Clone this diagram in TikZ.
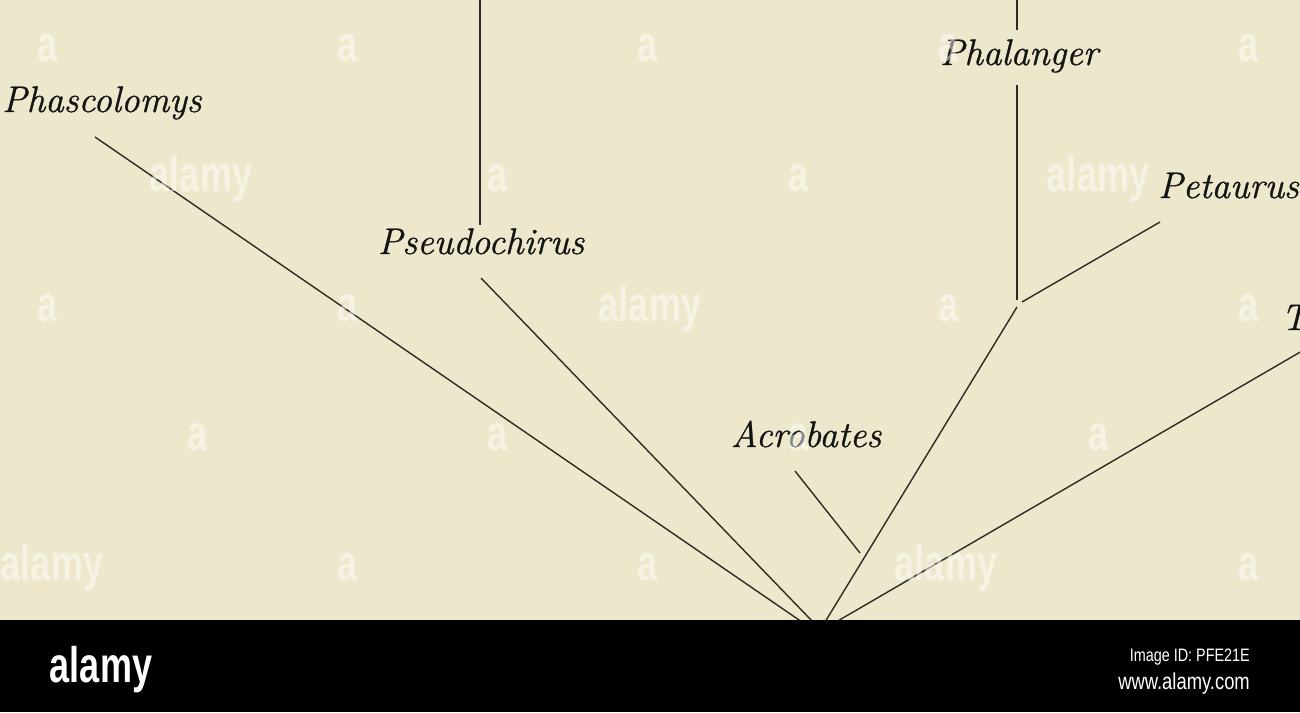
\documentclass[tikz,border=0pt]{standalone}
\usepackage{fontspec}
\newfontfamily\wmfont{Liberation Sans}
\newfontfamily\labfont[ItalicFeatures={FakeBold=0.9}]{Latin Modern Roman}
\definecolor{paper}{RGB}{237,231,203}
\definecolor{ink}{RGB}{45,43,35}
\tikzset{
  lbl/.style={inner sep=0pt, font=\labfont\fontsize{37}{44}\selectfont\itshape, text=black!92},
  br/.style={line width=1.4pt, draw=ink},
  wm/.style={inner sep=0pt, anchor=base, text=white, text opacity=0.5, font=\wmfont\bfseries\fontsize{50}{60}\selectfont},
  barlbl/.style={inner sep=0pt, text=white, font=\wmfont},
}
\begin{document}
\begin{tikzpicture}[x=1pt,y=-1pt]
\useasboundingbox (0,0) rectangle (1300,712);
\clip (0,0) rectangle (1300,712);
\fill[paper] (0,0) rectangle (1300,620);

% labels
\node[lbl, anchor=base west] (phasc) at (2,112) {Phascolomys};
\node[lbl, anchor=base] (pseudo) at (481,254) {Pseudochirus};
\node[lbl, anchor=base] (phal) at (1019,65) {Phalanger};
\node[lbl, anchor=base west] (petau) at (1158,198) {Petaurus};
\node[lbl, anchor=base] (acro) at (806,447) {Acrobates};
\node[lbl, anchor=base west] (tri) at (1281,330) {Trichosurus};

% branch end points
\coordinate (top1) at (480,-2);
\coordinate (pseudotop) at (480,225);
\coordinate (pseudobot) at (481,278);
\coordinate (phasbot) at (95,137);
\coordinate (top2) at (1017,-2);
\coordinate (phaltop) at (1017,30);
\coordinate (phalbot) at (1017,85);
\coordinate (junc) at (1017,300);
\coordinate (petjunc) at (1022,302);
\coordinate (petend) at (1160,222);
\coordinate (junc2) at (1017,307);
\coordinate (acrotop) at (795,471);
\coordinate (acrobot) at (860,553);
\coordinate (triend) at (1302,351);
\coordinate (r1) at (802,622);
\coordinate (r2) at (813,622);
\coordinate (r3) at (825,622);
\coordinate (r4) at (836,622);

% branches
\draw[br] (top1) -- (pseudotop);
\draw[br] (top2) -- (phaltop);
\draw[br] (phalbot) -- (junc);
\draw[br] (petjunc) -- (petend);
\draw[br] (phasbot) -- (r1);
\draw[br] (pseudobot) -- (r2);
\draw[br] (junc2) -- (r3);
\draw[br] (triend) -- (r4);
\draw[br] (acrotop) -- (acrobot);

% faint watermarks
\foreach \x/\y/\t [count=\i] in {48/61/a, 348/61/a, 648/61/a, 948/61/a, 1248/61/a,
  201/191/alamy, 498/191/a, 798/191/a, 1098/191/alamy,
  48/321/a, 348/321/a, 650/321/alamy, 948/321/a, 1248/321/a,
  198/450/a, 498/450/a, 798/450/a, 1098/450/a,
  52/580/alamy, 348/580/a, 648/580/a, 946/580/alamy, 1248/580/a}
  \node[wm] (wm\i) at (\x,\y) {\scalebox{0.72}[1]{\t}};

% bottom bar
\fill[black] (0,620) rectangle (1300,712);
\node[barlbl, anchor=base, font=\wmfont\bfseries\fontsize{50}{60}\selectfont] (logo) at (101,682) {\scalebox{0.72}[1]{alamy}};
\node[barlbl, anchor=base east, font=\wmfont\fontsize{18}{22}\selectfont] (imgid) at (1250,661) {\scalebox{0.8}[1]{Image ID: PFE21E}};
\node[barlbl, anchor=base east, font=\wmfont\fontsize{23}{28}\selectfont] (www) at (1250,689) {\scalebox{0.8}[1]{www.alamy.com}};
\end{tikzpicture}
\end{document}
